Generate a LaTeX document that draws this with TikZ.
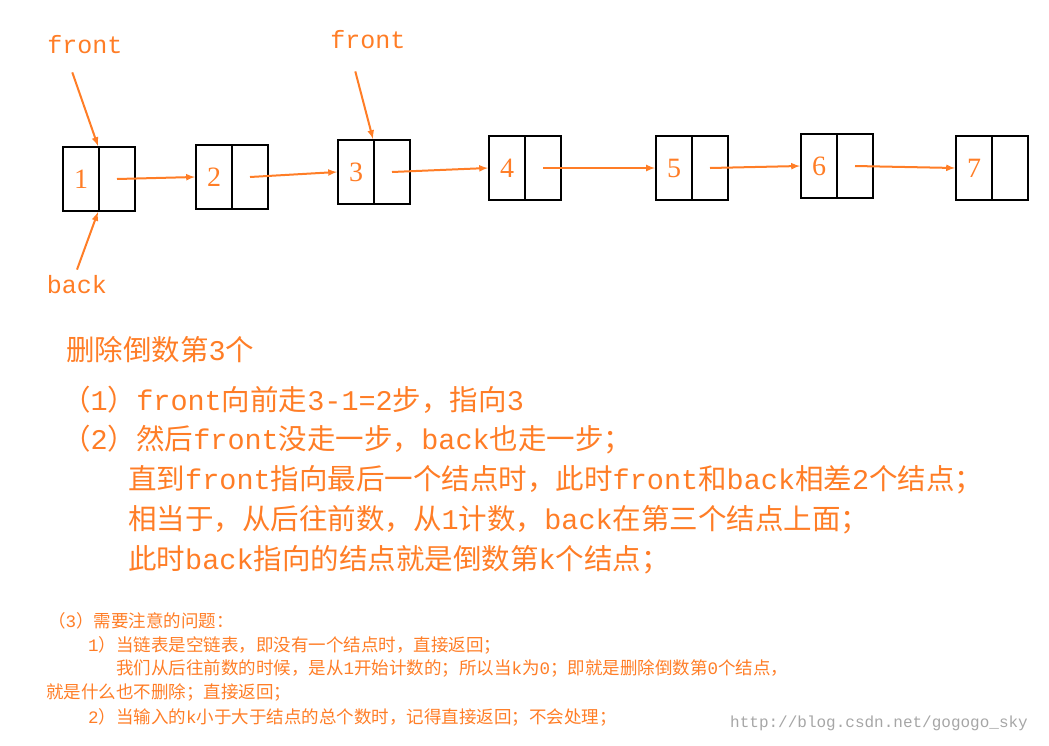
\documentclass[tikz,border=0pt]{standalone}
\usepackage{fontspec}
\setmainfont{Liberation Serif}
\setmonofont{Liberation Mono}
\newfontfamily\cjk{Noto Sans CJK SC}
\newcommand{\lat}[1]{{\ttfamily #1}}
\usetikzlibrary{positioning}
\definecolor{orng}{RGB}{255,125,38}
\begin{document}
\begin{tikzpicture}[x=1pt,y=-1pt]
	\tikzstyle{cell}=[draw=black, line width=2pt, minimum width=36pt, minimum height=64pt, inner sep=0pt]
	\tikzstyle{link}=[-latex, orng, line width=2pt]
	\tikzstyle{lbl}=[orng, font=\ttfamily\fontsize{25}{25}\selectfont, inner sep=0pt]
	\tikzstyle{num}=[orng, font=\fontsize{28}{28}\selectfont]
	\tikzstyle{big}=[orng, anchor=west, inner sep=0pt, font=\cjk\fontsize{28.5}{28.5}\selectfont]
	\tikzstyle{small}=[orng, anchor=west, inner sep=0pt, font=\cjk\fontsize{17.5}{17.5}\selectfont]
	\useasboundingbox (0,0) rectangle (1049,745);
	% list cells
	\foreach \i/\x/\y in {1/81/179,2/214/177,3/356/172,4/507/168,5/674/168,6/819/166,7/974/168}{
		\node[cell] (d\i) at (\x,\y) {};
		\node[cell, right=-2pt of d\i] (p\i) {};
		\node[num] (n\i) at (d\i) {\i};
	}
	\foreach \i/\j in {1/2,2/3,3/4,4/5,5/6,6/7}{
		\draw[link] (p\i.center) -- (d\j.west);
	}
	% pointers
	\node[lbl] (front1) at (85,45) {front};
	\node[lbl] (front2) at (368,40) {front};
	\node[lbl] (back) at (77,285) {back};
	\draw[link] (front1.south west) ++(25,18) coordinate (f1) -- (p1.north west);
	\draw[link] (front2.south west) ++(25,22) coordinate (f2) -- (p3.north west);
	\draw[link] (back.north) ++(0,-6) coordinate (b1) -- (p1.south west);
	% text
	\node[big] (t0) at (66,350) {删除倒数第\lat{3}个};
	\node[big] (t1) at (62,400) {（\lat{1}）\lat{front}向前走\lat{3-1=2}步，指向\lat{3}};
	\node[big] (t2) at (62,440) {（\lat{2}）然后\lat{front}没走一步，\lat{back}也走一步；};
	\node[big] (t3) at (128,480) {直到\lat{front}指向最后一个结点时，此时\lat{front}和\lat{back}相差\lat{2}个结点；};
	\node[big] (t4) at (128,520) {相当于，从后往前数，从\lat{1}计数，\lat{back}在第三个结点上面；};
	\node[big] (t5) at (128,560) {此时\lat{back}指向的结点就是倒数第\lat{k}个结点；};
	\node[small] (s0) at (48,621) {（\lat{3}）需要注意的问题：};
	\node[small] (s1) at (88,645) {\lat{1}）当链表是空链表，即没有一个结点时，直接返回；};
	\node[small] (s2) at (116,668) {我们从后往前数的时候，是从\lat{1}开始计数的；所以当\lat{k}为\lat{0}；即就是删除倒数第\lat{0}个结点，};
	\node[small] (s3) at (46,692) {就是什么也不删除；直接返回；};
	\node[small] (s4) at (88,717) {\lat{2}）当输入的\lat{k}小于大于结点的总个数时，记得直接返回；不会处理；};
	\node[gray!70, anchor=west, inner sep=0pt, font=\ttfamily\fontsize{16}{16}\selectfont] (url) at (730,723) {http://blog.csdn.net/gogogo\_sky};
\end{tikzpicture}
\end{document}
